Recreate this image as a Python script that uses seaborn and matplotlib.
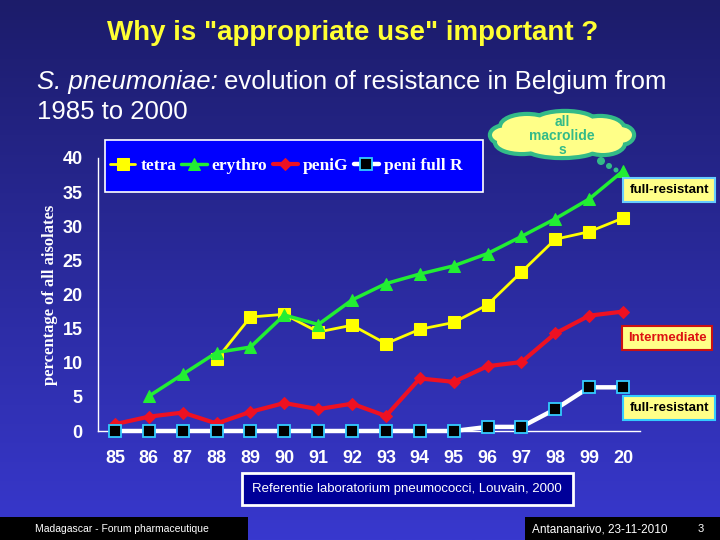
import matplotlib.pyplot as plt
import matplotlib.patches as mpatches
import numpy as np
import pandas as pd
import seaborn as sns

years = ["85", "86", "87", "88", "89", "90", "91", "92", "93", "94", "95", "96", "97", "98", "99", "20"]
tetra = [np.nan, np.nan, np.nan, 10.5, 16.7, 17.1, 14.5, 15.5, 12.8, 14.9, 15.9, 18.5, 23.3, 28.1, 29.2, 31.2]
erythro = [np.nan, 5.1, 8.3, 11.5, 12.3, 17.0, 15.6, 19.2, 21.6, 23.0, 24.2, 26.0, 28.5, 31.1, 34.0, 38.1]
peni_g = [1.0, 2.1, 2.7, 1.1, 2.8, 4.1, 3.2, 4.0, 2.2, 7.7, 7.2, 9.5, 10.1, 14.3, 16.9, 17.5]
peni_full_r = [0, 0, 0, 0, 0, 0, 0, 0, 0, 0, 0, 0.6, 0.6, 3.2, 6.4, 6.4]

y_ticks = [0, 5, 10, 15, 20, 25, 30, 35, 40]

df = pd.DataFrame({"x": range(len(years)), "tetra": tetra, "erythro": erythro,
                   "peniG": peni_g, "peni full R": peni_full_r})

sns.set_style("white")
plt.rcParams["font.family"] = ["Liberation Sans", "DejaVu Sans"]

fig = plt.figure(figsize=(7.2, 5.4), dpi=100)

# background gradient, pixel coordinates
bg = fig.add_axes([0, 0, 1, 1], zorder=0)
grad = np.linspace(0, 1, 256).reshape(-1, 1)
top = np.array([28, 28, 106]) / 255
bottom = np.array([56, 56, 206]) / 255
img = top + (bottom - top) * grad[..., None]
bg.imshow(img, extent=[0, 720, 540, 0], aspect="auto")
bg.set_xlim(0, 720)
bg.set_ylim(540, 0)
bg.axis("off")
# legend box (drawn behind the plot)
bg.add_patch(mpatches.Rectangle((105, 140), 378, 52, facecolor="#0000ff", edgecolor="white", lw=1.2))

ax = fig.add_axes([98 / 720, 1 - 431 / 540, 542 / 720, 273 / 540], zorder=2)
ax.set_facecolor("none")

series = [
    ("tetra", "#ffff00", "s", 8, 2.0),
    ("erythro", "#22ee33", "^", 9, 2.5),
    ("peniG", "#ee1122", "D", 6.5, 3.0),
]
for name, col, mk, ms, lw in series:
    sns.lineplot(data=df, x="x", y=name, ax=ax, color=col, marker=mk, markersize=ms,
                 markeredgecolor=col, linewidth=lw, label=name, clip_on=False, zorder=4)
sns.lineplot(data=df, x="x", y="peni full R", ax=ax, color="white", marker="s", markersize=9,
             markerfacecolor="black", markeredgecolor="#33ccff", markeredgewidth=1.3,
             linewidth=3.2, label="peni full R", clip_on=False, zorder=5)

ax.set_xlim(-0.5, 15.5)
ax.set_ylim(0, 40)
ax.set_xlabel("")
ax.set_ylabel("percentage of all aisolates", color="white", fontsize=12, fontweight="bold",
              family=["Liberation Serif", "DejaVu Serif"], labelpad=3)
ax.set_yticks(y_ticks)
ax.set_xticks(range(len(years)))
ax.set_xticklabels(years)
ax.set_xticks(np.arange(-0.5, 16, 1), minor=True)
ax.tick_params(axis="x", which="major", length=0, pad=14, colors="white", labelsize=13)
ax.tick_params(axis="x", which="minor", length=4, direction="out", color="white")
ax.tick_params(axis="y", length=6, direction="out", color="white", colors="white", labelsize=13, pad=5)
for lab in ax.get_xticklabels() + ax.get_yticklabels():
    lab.set_fontweight("bold")
for s in ["top", "right"]:
    ax.spines[s].set_visible(False)
for s in ["left", "bottom"]:
    ax.spines[s].set_color("white")
    ax.spines[s].set_linewidth(1)

leg = ax.legend(loc="center left", ncol=4, bbox_to_anchor=(110 / 720, 1 - 166 / 540),
                bbox_transform=fig.transFigure, frameon=False,
                handlelength=1.45, handletextpad=0.3, columnspacing=0.3, borderaxespad=0, borderpad=0,
                prop={"family": ["Liberation Serif", "DejaVu Serif"], "weight": "bold", "size": 12.5})
for t in leg.get_texts():
    t.set_color("white")

# overlay for texts and decorations
ov = fig.add_axes([0, 0, 1, 1], zorder=3)
ov.set_xlim(0, 720)
ov.set_ylim(540, 0)
ov.axis("off")
ov.patch.set_alpha(0)

ov.text(353, 33, 'Why is "appropriate use" important ?', color="#ffff33", fontsize=20,
        fontweight="bold", ha="center", va="center")
t1 = ov.text(37, 82, "S. pneumoniae:", color="white", fontsize=18.5, style="italic", va="center")
fig.canvas.draw()
bb = t1.get_window_extent(renderer=fig.canvas.get_renderer())
ov.text(bb.x1 + 6, 82, "evolution of resistance in Belgium from", color="white", fontsize=18.5, va="center")
ov.text(37, 112, "1985 to 2000", color="white", fontsize=18.5, va="center")

# cloud
cloud_parts = [(527, 127, 50, 22), (565, 123, 60, 20), (600, 129, 45, 22), (522, 142, 50, 20),
               (562, 147, 70, 18), (603, 143, 40, 20), (507, 135, 30, 16), (620, 135, 24, 16),
               (562, 136, 100, 30)]
for cx, cy, w, h in cloud_parts:
    ov.add_patch(mpatches.Ellipse((cx, cy), w, h, facecolor="#33bb88", edgecolor="#33bb88", lw=6))
for cx, cy, w, h in cloud_parts:
    ov.add_patch(mpatches.Ellipse((cx, cy), w, h, facecolor="#ffff88", edgecolor="none"))
for cx, cy, r in [(601, 161, 4), (609, 166, 3), (616, 170, 2.5)]:
    ov.add_patch(mpatches.Circle((cx, cy), r, facecolor="#33bb88", edgecolor="none"))
ov.text(562, 136, "all\nmacrolide\ns", color="#33bb88", fontsize=10, fontweight="bold",
        ha="center", va="center", linespacing=1.0)

box_kw = dict(boxstyle="square,pad=0.45", facecolor="#ffff88", lw=1.5)
ov.text(669, 190, "full-resistant", color="black", fontsize=9.5, fontweight="bold", ha="center",
        va="center", bbox=dict(box_kw, edgecolor="#66ccff"))
ov.text(667, 338, "Intermediate", color="#dd1111", fontsize=9.5, fontweight="bold", ha="center",
        va="center", bbox=dict(box_kw, edgecolor="#cc1111"))
ov.text(669, 408, "full-resistant", color="black", fontsize=9.5, fontweight="bold", ha="center",
        va="center", bbox=dict(box_kw, edgecolor="#33ccff"))

ov.add_patch(mpatches.Rectangle((242, 473), 331, 32, facecolor="#000099", edgecolor="white", lw=2))
ov.text(407, 489, "Referentie laboratorium pneumococci, Louvain, 2000", color="white", fontsize=9.5,
        ha="center", va="center")

ov.add_patch(mpatches.Rectangle((0, 517), 248, 23, facecolor="black", edgecolor="none"))
ov.add_patch(mpatches.Rectangle((525, 517), 195, 23, facecolor="black", edgecolor="none"))
ov.text(122, 529, "Madagascar - Forum pharmaceutique", color="white", fontsize=7.5,
        ha="center", va="center")
ov.text(600, 529, "Antananarivo, 23-11-2010", color="white", fontsize=8.5, ha="center", va="center")
ov.text(701, 529, "3", color="white", fontsize=8, ha="center", va="center")

fig.savefig("out.png", dpi=100)
